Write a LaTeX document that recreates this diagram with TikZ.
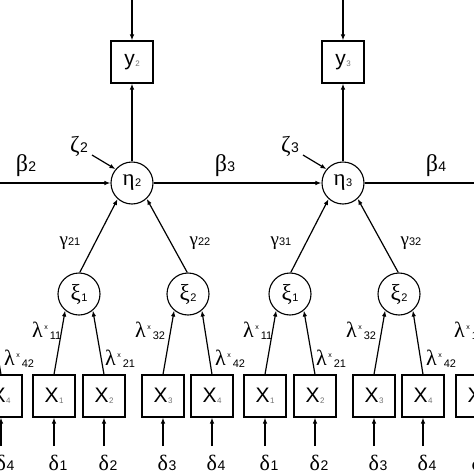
\documentclass[tikz,border=0pt]{standalone}
\usepackage{fontspec}
\setmainfont{Liberation Sans}
\newfontfamily\grk{Liberation Serif}
\usetikzlibrary{arrows.meta}
\newcommand\fs[1]{\fontsize{#1}{#1}\selectfont}
\newcommand\obsl[2]{\fs{21}#1\kern0.5pt\raisebox{-1pt}{\fs{8}\color{black!55}#2}}
\newcommand\gkbig[3]{{\fs{#1}\grk #2}\kern0.5pt{\fs{14}#3}}
\newcommand\gklat[2]{{\fs{23}\grk #1}\kern0.5pt\raisebox{-1pt}{\fs{11}#2}}
\newcommand\gkgam[1]{{\fs{19}\grk γ}{\fs{11}#1}}
\newcommand\gklam[1]{{\fs{22}\grk λ}\kern1.5pt\raisebox{8pt}{\fs{7}x}\kern2pt\raisebox{-2pt}{\fs{11}#1}}
\begin{document}
\begin{tikzpicture}[x=1pt,y=-1pt,
  obs/.style={draw,line width=1.1pt,minimum size=42pt,inner sep=0pt},
  lat/.style={draw,circle,line width=1.1pt,minimum size=42pt,inner sep=0pt},
  ln/.style={line width=1.2pt},
  arr/.style={ln,-{Latex[length=6pt,width=4.5pt]}},
  lbl/.style={inner sep=0pt}]
\useasboundingbox (0,0) rectangle (474,474);
\clip (0,0) rectangle (474,474);
% partial elements of the neighbouring groups
\node[obs] (xdL) at (1,396) {\obsl{X}{4}};
\coordinate (xibL) at (-10,310);
\coordinate (ddL) at (1,446);
\node[lbl] (ldL) at (5,463) {\gkbig{22}{δ}{4}};
\node[lbl,anchor=west] (lmdL) at (4,359) {\gklam{42}};
\draw[arr] (xdL.north) -- (xibL);
\draw[arr] (ddL) -- (xdL.south);
\node[obs] (xaR) at (477,396) {\obsl{X}{1}};
\node[lbl] (laR) at (481,463) {\gkbig{22}{δ}{1}};
\node[lbl,anchor=west] (lmaR) at (454,331) {\gklam{11}};
\coordinate (etaL) at (-10,183);
\coordinate (etaR) at (484,183);
\foreach \k/\bx in {0/26,1/225}{
  \pgfmathsetmacro\o{211*\k}
  \pgfmathtruncatemacro\e{\k+2}
  \begin{scope}[xshift=\o pt]
    \node[obs] (y\e) at (132,62) {\obsl{y}{\e}};
    \coordinate (top\e) at (132,-10);
    \node[lat] (eta\e) at (132,183) {\gklat{η}{\e}};
    \node[lat] (xia\e) at (79,294) {\gklat{ξ}{1}};
    \node[lat] (xib\e) at (188,294) {\gklat{ξ}{2}};
    \node[obs] (xa\e) at (54,396) {\obsl{X}{1}};
    \node[obs] (xb\e) at (104,396) {\obsl{X}{2}};
    \node[obs] (xc\e) at (163,396) {\obsl{X}{3}};
    \node[obs] (xd\e) at (212,396) {\obsl{X}{4}};
    \coordinate (da\e) at (54,446);
    \coordinate (db\e) at (104,446);
    \coordinate (dc\e) at (163,446);
    \coordinate (dd\e) at (212,446);
    \node[lbl] (la\e) at (58,463) {\gkbig{22}{δ}{1}};
    \node[lbl] (lb\e) at (108,463) {\gkbig{22}{δ}{2}};
    \node[lbl] (lc\e) at (167,463) {\gkbig{22}{δ}{3}};
    \node[lbl] (ld\e) at (216,463) {\gkbig{22}{δ}{4}};
    \coordinate (z\e) at (92,155);
    \node[lbl] (zl\e) at (79,146) {\gkbig{23}{ζ}{\e}};
    \node[lbl] (ga\e) at (70,243) {\gkgam{\e1}};
    \node[lbl] (gb\e) at (200,243) {\gkgam{\e2}};
    \node[lbl,anchor=west] (lma\e) at (32,331) {\gklam{11}};
    \node[lbl,anchor=west] (lmb\e) at (105,359) {\gklam{21}};
    \node[lbl,anchor=west] (lmc\e) at (135,331) {\gklam{32}};
    \node[lbl,anchor=west] (lmd\e) at (215,359) {\gklam{42}};
  \end{scope}
  \node[lbl] (bl\e) at (\bx,166) {\gkbig{24}{β}{\e}};
  \draw[arr] (top\e) -- (y\e.north);
  \draw[arr] (eta\e.north) -- (y\e.south);
  \draw[arr] (z\e) -- (eta\e.140);
  \draw[arr] (xia\e.88) -- (eta\e.228);
  \draw[arr] (xib\e.92) -- (eta\e.313);
  \draw[arr] (xa\e.north) -- (xia\e.230);
  \draw[arr] (xb\e.north) -- (xia\e.310);
  \draw[arr] (xc\e.north) -- (xib\e.230);
  \draw[arr] (xd\e.north) -- (xib\e.310);
  \draw[arr] (da\e) -- (xa\e.south);
  \draw[arr] (db\e) -- (xb\e.south);
  \draw[arr] (dc\e) -- (xc\e.south);
  \draw[arr] (dd\e) -- (xd\e.south);
}
\node[lbl] (bl4) at (436,166) {\gkbig{24}{β}{4}};
\draw[arr] (etaL) -- (eta2.west);
\draw[arr] (eta2.east) -- (eta3.west);
\draw[ln] (eta3.east) -- (etaR);
\end{tikzpicture}
\end{document}
